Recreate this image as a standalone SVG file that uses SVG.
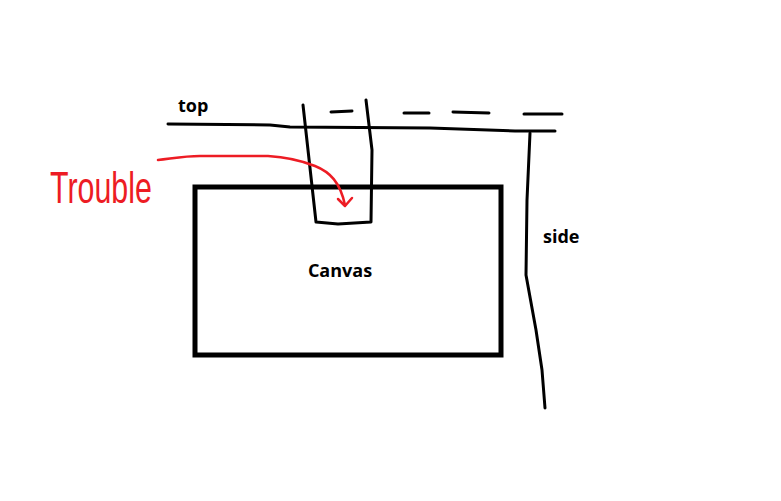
<svg xmlns="http://www.w3.org/2000/svg" width="781" height="501" viewBox="0 0 781 501">
<style>
.ln{fill:none;stroke:#000;stroke-width:3;stroke-linecap:round;stroke-linejoin:round}
.lbl{font-family:"Open Sans","DejaVu Sans",sans-serif;font-weight:700;font-size:18px;fill:#000}
.red{fill:none;stroke:#ed1c24;stroke-width:2.5;stroke-linecap:round;stroke-linejoin:round}
</style>
<rect width="781" height="501" fill="#fff"/>
<g id="canvas">
<rect x="195" y="187" width="306" height="168" fill="none" stroke="#000" stroke-width="5"/>
<text class="lbl" x="340" y="277" text-anchor="middle">Canvas</text>
</g>
<g id="top">
<path class="ln" d="M168,124 L270,125 L290,127 L430,128 L515,131 L555,131"/>
<path class="ln" d="M331,112 L352,111 M404,113 L429,113 M453,112 L489,113 M524,114 L562,114"/>
<text class="lbl" x="178" y="112">top</text>
</g>
<g id="slot">
<path class="ln" d="M303,105 L308,150 L316,222 L338,224 L371,222 L372,150 L366,100"/>
</g>
<g id="side">
<path class="ln" d="M530,133 L527,200 L526,275 L536,330 L542,370 L545,408"/>
<text class="lbl" x="543" y="243">side</text>
</g>
<g id="trouble">
<text x="50" y="203" font-family="Liberation Sans, sans-serif" font-size="44" fill="#ed1c24" transform="translate(50 203) scale(0.69 1) translate(-50 -203)">Trouble</text>
</g>
<g id="connectors">
<path class="red" d="M158,160 C175,158 185,156 200,156 L268,156 C285,157 300,160 315,166 C330,172 340,182 345,205"/>
<path class="red" d="M338,199 L345,206 L352,198"/>
</g>
</svg>
